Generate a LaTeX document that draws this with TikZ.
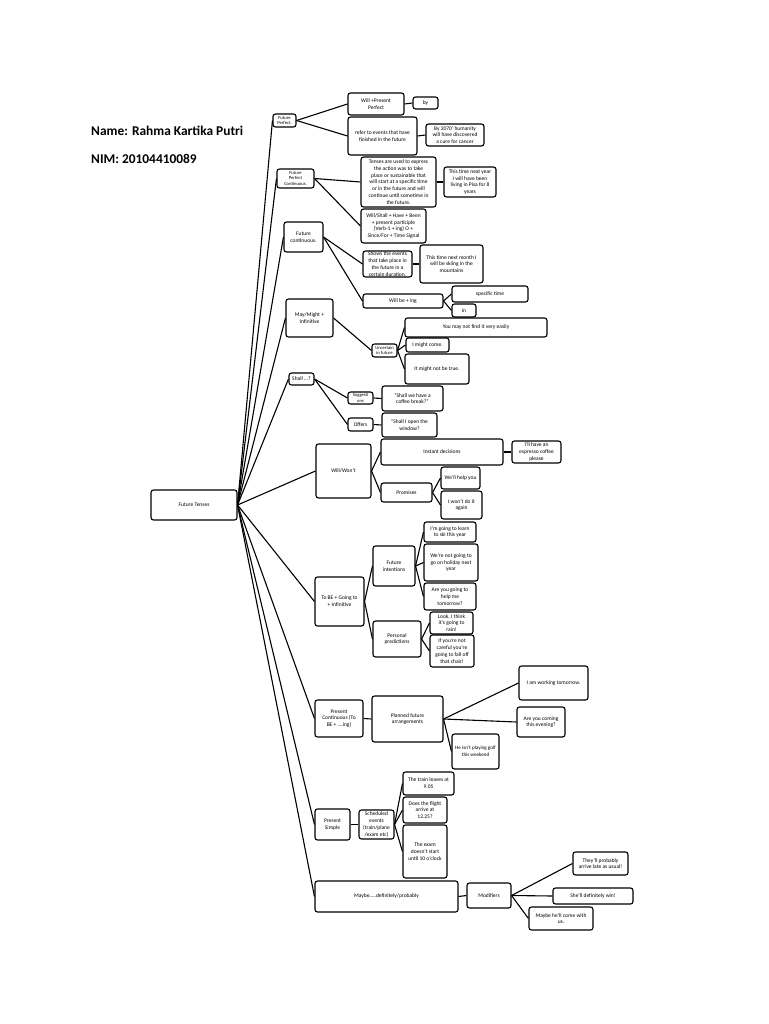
\documentclass[tikz,border=0pt]{standalone}
\usepackage{fontspec}
\setmainfont{Carlito}
\begin{document}
\begin{tikzpicture}[x=1pt,y=-1pt,
  bx/.style={draw=black, line width=1.1pt, rounded corners=2.5pt, fill=white, inner sep=0pt},
  txt/.style={font=\fontsize{5.5}{6.8}\selectfont, align=center, inner sep=0pt},
  stxt/.style={font=\fontsize{4.6}{5.4}\selectfont, align=center, inner sep=0pt},
  mtxt/.style={font=\fontsize{5.1}{6.6}\selectfont, align=center, inner sep=0pt},
  cn/.style={line width=1.1pt, black},
  hdr/.style={font=\fontsize{13.4}{16}\selectfont\bfseries, anchor=base west, inner sep=0pt}]
\newcommand{\bx}[7][txt]{%
  \node[bx, minimum width=\fpeval{#5-#3}pt, minimum height=\fpeval{#6-#4}pt]
    (#2) at (\fpeval{(#3+#5)/2},\fpeval{(#4+#6)/2}) {};
  \node[#1] at (#2.center) {#7};}
\useasboundingbox (0,0) rectangle (768,1024);
\fill[white] (0,0) rectangle (768,1024);
% header
\node[hdr] (name) at (91,136) {Name: Rahma Kartika Putri};
\node[hdr] (nim) at (91,164) {NIM: 20104410089};
% boxes
\bx{ft}{151}{490}{237}{520}{Future Tenses}
\bx[stxt]{fp}{273}{114}{296}{127}{Future\\Perfect.}
\bx{wpp}{348}{93}{404}{115}{Will +Present\\Perfect}
\bx{by}{413}{97}{438}{109}{by}
\bx{ref}{348}{117}{417}{155}{refer to events that have\\finished in the future}
\bx{btw}{426}{124}{484}{146}{By 2070’ humanity\\will have discovered\\a cure for cancer}
\bx[stxt]{fpc}{277}{169}{314}{188}{Future\\Perfect\\Continuous.}
\bx{tens}{361}{157}{436}{207}{Tenses are used to express\\the action was to take\\place or sustainable that\\will start at a specific time\\or in the future and will\\continue until sometime in\\the future.}
\bx{tny}{444}{167}{496}{197}{This time next year\\I will have been\\living in Pisa for 8\\years}
\bx{wsh}{361}{209}{426}{243}{Will/Shall + Have + Been\\+ present participle\\(Verb-1 + ing) O +\\Since/For + Time Signal}
\bx{fc}{284}{222}{323}{252}{Future\\continuous.}
\bx{shows}{363}{251}{412}{277}{Shows the events\\that take place in\\the future in a\\certain duration.}
\bx{tnm}{420}{245}{483}{283}{This time next month I\\will be skiing in the\\mountains}
\bx{wbi}{363}{294}{443}{308}{Will be + ing}
\bx{spec}{452}{286}{528}{302}{specific time}
\bx{inn}{452}{304}{476}{317}{in}
\bx{may}{286}{299}{333}{337}{May/Might +\\Infinitive}
\bx[stxt]{unc}{372}{344}{397}{357}{Uncertain\\in future}
\bx{ymn}{405}{318}{547}{337}{You may not find it very easily}
\bx{imc}{406}{338}{449}{352}{I might come.}
\bx{imn}{405}{354}{469}{384}{It might not be true.}
\bx{shall}{289}{373}{314}{385}{Shall ...?}
\bx[stxt]{sugg}{348}{392}{373}{404}{Suggesti\\ons}
\bx{swh}{382}{386}{443}{411}{“Shall we have a\\coffee break?”}
\bx{off}{348}{418}{373}{431}{Offers}
\bx{sio}{382}{413}{437}{437}{“Shall I open the\\window?}
\bx{ww}{316}{444}{371}{498}{Will/Won’t}
\bx{inst}{381}{439}{503}{465}{Instant decisions}
\bx{ill}{512}{441}{561}{463}{I’ll have an\\espresso coffee\\please}
\bx{prom}{381}{483}{432}{502}{Promises}
\bx{whelp}{441}{467}{480}{489}{We’ll help you}
\bx{iwont}{441}{491}{482}{519}{I won’t do it\\again}
\bx{tobe}{315}{577}{364}{626}{To BE + Going to\\+ Infinitive}
\bx{fi}{373}{546}{415}{586}{Future\\intentions}
\bx{ski}{424}{522}{476}{542}{I’m going to learn\\to ski this year}
\bx{hol}{424}{544}{478}{581}{We’re not going to\\go on holiday next\\year}
\bx{help}{424}{583}{476}{610}{Are you going to\\help me\\tomorrow?}
\bx{pp}{373}{621}{421}{657}{Personal\\predictions}
\bx{rain}{430}{612}{473}{634}{Look, I think\\it’s going to\\rain!}
\bx{chair}{430}{635}{474}{667}{If you’re not\\careful you’re\\going to fall off\\that chair!}
\bx{pc}{315}{700}{363}{737}{Present\\Continuous (To\\BE + ….ing)}
\bx{pfa}{372}{696}{443}{742}{Planned future\\arrangements}
\bx{work}{519}{666}{588}{700}{I am working tomorrow.}
\bx{eve}{517}{707}{565}{737}{Are you coming\\this evening?}
\bx[mtxt]{golf}{452}{734}{499}{769}{He isn’t playing golf\\this weekend}
\bx{ps}{315}{809}{350}{840}{Present\\Simple}
\bx{sched}{359}{810}{394}{839}{Scheduled\\events\\(train/plane\\/exam etc)}
\bx{train}{403}{772}{454}{795}{The train leaves at\\9.05}
\bx{flight}{403}{797}{447}{823}{Does the flight\\arrive at\\12.25?}
\bx{exam}{403}{825}{447}{878}{The exam\\doesn’t start\\until 10 o’clock}
\bx{maybe}{315}{881}{458}{912}{Maybe…..definitely/probably}
\bx{mod}{467}{883}{511}{908}{Modifiers}
\bx{late}{573}{852}{628}{875}{They’ll probably\\arrive late as usual!}
\bx{win}{553}{888}{633}{904}{She’ll definitely win!}
\bx{come}{529}{907}{593}{930}{Maybe he’ll come with\\us.}
% connectors
\foreach \c in {fp,fpc,fc,may,shall,ww,tobe,pc,ps,maybe}
  \draw[cn] (ft.east) -- (\c.west);
\foreach \p/\c in {fp/wpp,fp/ref,wpp/by,ref/btw,fpc/tens,fpc/wsh,tens/tny,
  fc/shows,fc/wbi,shows/tnm,wbi/spec,wbi/inn,may/unc,unc/ymn,unc/imc,unc/imn,
  shall/sugg,shall/off,sugg/swh,off/sio,ww/inst,ww/prom,inst/ill,prom/whelp,prom/iwont,
  tobe/fi,tobe/pp,fi/ski,fi/hol,fi/help,pp/rain,pp/chair,pc/pfa,pfa/work,pfa/eve,pfa/golf,
  ps/sched,sched/train,sched/flight,sched/exam,maybe/mod,mod/late,mod/win,mod/come}
  \draw[cn] (\p.east) -- (\c.west);
\end{tikzpicture}
\end{document}
